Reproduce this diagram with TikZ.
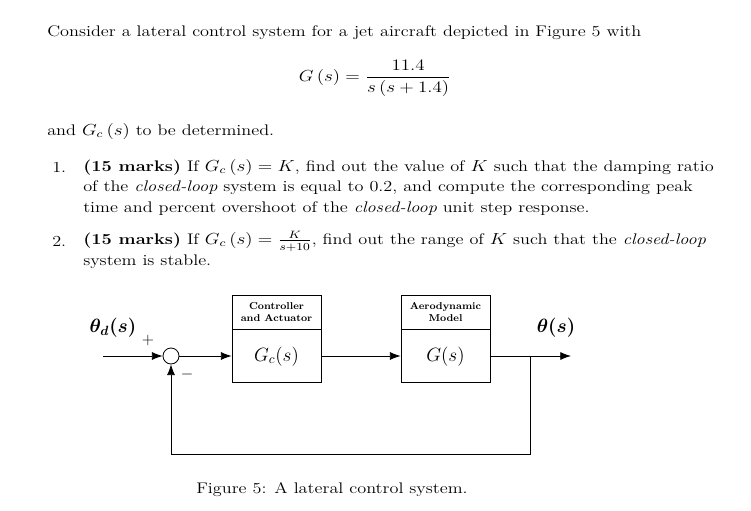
\documentclass[tikz,border=0pt]{standalone}
\usepackage{amsmath}
\usetikzlibrary{arrows.meta}
\newcommand{\wide}[1]{\scalebox{1.19}[1]{#1}}
\begin{document}
\begin{tikzpicture}[x=0.75pt,y=-0.75pt,
  txt/.style={anchor=west,inner sep=0pt,font=\fontsize{11.5}{13}\selectfont},
  blk/.style={draw,line width=0.6pt,minimum width=66.75pt,inner sep=0pt},
  sm/.style={font=\fontsize{7.5}{8.5}\selectfont\bfseries,align=center},
  ln/.style={line width=0.6pt},
  arr/.style={ln,-{Latex[length=8pt,width=6pt]}}]
\useasboundingbox (0,0) rectangle (751,511);
\node[txt] (t1) at (47,33) {\wide{Consider a lateral control system for a jet aircraft depicted in Figure 5 with}};
\node[font=\fontsize{11.5}{13}\selectfont] (eq) at (375,78) {\wide{$G\left(s\right)=\dfrac{11.4}{s\left(s+1.4\right)}$}};
\node[txt] (t2) at (47,131) {\wide{and $G_c\left(s\right)$ to be determined.}};
\node[txt] (n1) at (52,167) {\wide{1.}};
\node[txt] (a1) at (83,167) {\wide{\textbf{(15 marks)} If $G_c\left(s\right)=K$, find out the value of $K$ such that the damping ratio}};
\node[txt] (a2) at (83,188) {\wide{of the \textit{closed-loop} system is equal to 0.2, and compute the corresponding peak}};
\node[txt] (a3) at (83,209) {\wide{time and percent overshoot of the \textit{closed-loop} unit step response.}};
\node[txt] (n2) at (52,241) {\wide{2.}};
\node[txt] (b1) at (83,241) {\wide{\textbf{(15 marks)} If $G_c\left(s\right)=\frac{K}{s+10}$, find out the range of $K$ such that the \textit{closed-loop}}};
\node[txt] (b2) at (83,262) {\wide{system is stable.}};
% diagram
\node[draw,circle,ln,minimum size=12pt,inner sep=0pt] (sum) at (171,356) {};
\node[blk,minimum height=25.5pt,sm] (c1) at (276.5,312) {Controller\\and Actuator};
\node[blk,minimum height=39.75pt,anchor=north,font=\Large] (g1) at (c1.south) {$G_c(s)$};
\node[blk,minimum height=25.5pt,sm] (c2) at (445.5,312) {Aerodynamic\\Model};
\node[blk,minimum height=39.75pt,anchor=north,font=\Large] (g2) at (c2.south) {$G(s)$};
\coordinate (in) at (103,356);
\coordinate (br) at (530,356);
\coordinate (out) at (571,356);
\coordinate (fb) at (530,454);
\draw[arr] (in) -- (sum);
\draw[arr] (sum) -- (sum -| g1.west);
\draw[arr] (g1.east |- sum) -- (g2.west |- sum);
\draw[arr] (g2.east |- sum) -- (out);
\draw[arr] (br) -- (fb) -| (sum);
\node[font=\Large] (td) at (113,328) {$\boldsymbol{\theta_d(s)}$};
\node[font=\large] (pl) at (148,340) {$+$};
\node[font=\large] (mi) at (187,374) {$-$};
\node[font=\Large] (th) at (556,328) {$\boldsymbol{\theta(s)}$};
\node[font=\fontsize{11.5}{13}\selectfont] (cap) at (332,490) {\wide{Figure 5: A lateral control system.}};
\end{tikzpicture}
\end{document}
